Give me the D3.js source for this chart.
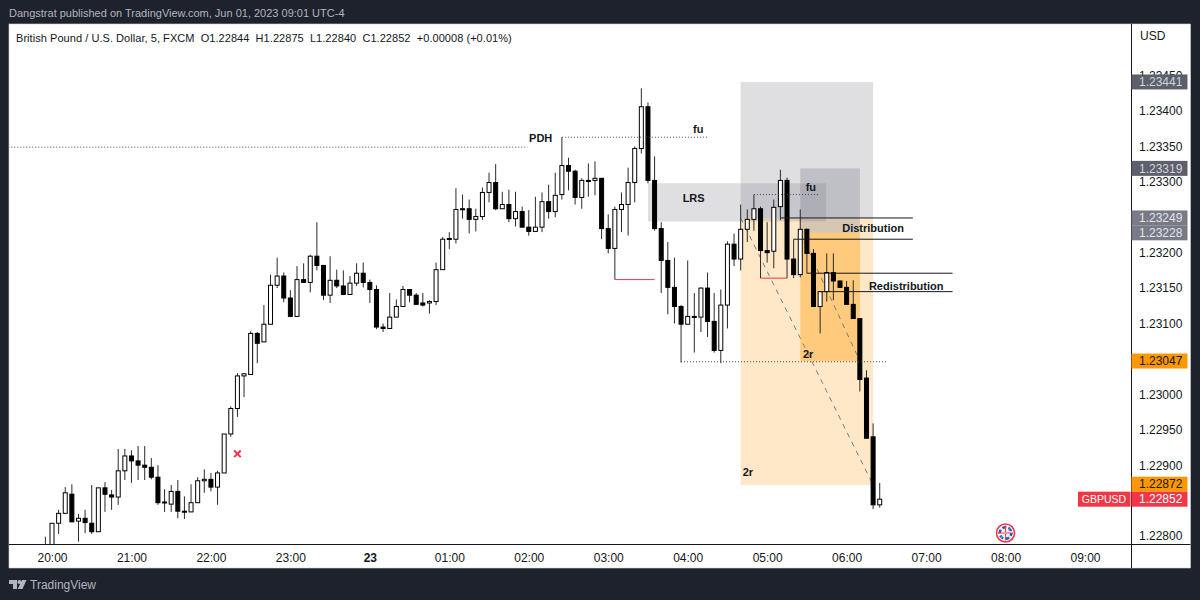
<!DOCTYPE html>
<meta charset="utf-8">
<script src="https://d3js.org/d3.v7.min.js"></script>
<style>
    html, body { margin: 0; background: #1e222d; }
    text { font-family: "Liberation Sans", Arial, sans-serif; }
</style>
<svg id="vis"></svg>

<script>
    // Candle prices. One bar every 5 minutes, first one at 19:55
    const opens = [
        1.22783,1.22777,1.22818,1.22832,1.22859,1.22821,1.22825,1.22818,1.22806,1.22868,
        1.22858,1.22855,1.22892,1.22913,1.22906,1.22900,1.22897,1.22883,1.22848,1.22845,
        1.22863,1.22835,1.22834,1.22847,1.22878,1.22880,1.22869,1.22889,1.22944,1.22980,
        1.23026,1.23028,1.23086,1.23074,1.23099,1.23154,1.23167,1.23136,1.23110,1.23162,
        1.23158,1.23195,1.23182,1.23140,1.23161,1.23153,1.23141,1.23157,1.23171,1.23158,
        1.23148,1.23095,1.23093,1.23109,1.23124,1.23148,1.23140,1.23129,1.23129,1.23131,
        1.23176,1.23219,1.23219,1.23262,1.23262,1.23247,1.23251,1.23285,1.23299,1.23262,
        1.23268,1.23248,1.23258,1.23236,1.23230,1.23236,1.23272,1.23258,1.23282,1.23323,
        1.23315,1.23278,1.23302,1.23302,1.23305,1.23234,1.23206,1.23261,1.23268,1.23299,
        1.23347,1.23406,1.23302,1.23234,1.23189,1.23151,1.23124,1.23099,1.23110,1.23109,
        1.23150,1.23103,1.23062,1.23126,1.23212,1.23191,1.23233,1.23247,1.23262,1.23203,
        1.23202,1.23265,1.23302,1.23191,1.23169,1.23233,1.23199,1.23124,1.23145,1.23172,
        1.23160,1.23151,1.23127,1.23107,1.23023,1.22940,1.22844
    ];
    const highs = [
        1.22799,1.22818,1.22837,1.22869,1.22873,1.22831,1.22837,1.22872,1.22868,1.22876,
        1.22865,1.22923,1.22923,1.22921,1.22927,1.22927,1.22910,1.22900,1.22866,1.22872,
        1.22879,1.22856,1.22873,1.22883,1.22894,1.22889,1.22892,1.22944,1.22983,1.23030,
        1.23030,1.23089,1.23088,1.23126,1.23169,1.23193,1.23172,1.23147,1.23181,1.23185,
        1.23197,1.23243,1.23182,1.23195,1.23176,1.23175,1.23167,1.23185,1.23186,1.23162,
        1.23154,1.23100,1.23143,1.23134,1.23153,1.23148,1.23143,1.23143,1.23133,1.23186,
        1.23222,1.23229,1.23291,1.23282,1.23275,1.23262,1.23292,1.23313,1.23325,1.23286,
        1.23289,1.23286,1.23265,1.23260,1.23279,1.23285,1.23296,1.23313,1.23363,1.23334,
        1.23317,1.23305,1.23326,1.23329,1.23305,1.23254,1.23265,1.23285,1.23320,1.23350,
        1.23432,1.23412,1.23336,1.23243,1.23215,1.23193,1.23126,1.23189,1.23143,1.23151,
        1.23172,1.23143,1.23148,1.23216,1.23227,1.23268,1.23261,1.23282,1.23265,1.23243,
        1.23275,1.23317,1.23306,1.23219,1.23261,1.23234,1.23205,1.23145,1.23199,1.23199,
        1.23161,1.23160,1.23161,1.23107,1.23034,1.22959,1.22875
    ];
    const lows = [
        1.22766,1.22769,1.22803,1.22832,1.22820,1.22792,1.22804,1.22803,1.22806,1.22834,
        1.22837,1.22844,1.22879,1.22875,1.22879,1.22879,1.22880,1.22844,1.22834,1.22834,
        1.22825,1.22824,1.22834,1.22847,1.22861,1.22863,1.22844,1.22889,1.22940,1.22968,
        1.22996,1.23028,1.23044,1.23074,1.23099,1.23150,1.23130,1.23109,1.23110,1.23158,
        1.23144,1.23175,1.23133,1.23129,1.23150,1.23140,1.23141,1.23153,1.23151,1.23129,
        1.23092,1.23088,1.23093,1.23109,1.23124,1.23130,1.23127,1.23124,1.23114,1.23126,
        1.23176,1.23205,1.23213,1.23248,1.23227,1.23230,1.23246,1.23271,1.23260,1.23262,
        1.23243,1.23237,1.23236,1.23224,1.23230,1.23229,1.23248,1.23250,1.23275,1.23288,
        1.23268,1.23262,1.23279,1.23281,1.23219,1.23199,1.23162,1.23229,1.23224,1.23271,
        1.23340,1.23298,1.23231,1.23143,1.23113,1.23100,1.23045,1.23099,1.23059,1.23088,
        1.23081,1.23059,1.23044,1.23093,1.23181,1.23175,1.23215,1.23231,1.23164,1.23186,
        1.23178,1.23246,1.23164,1.23164,1.23165,1.23171,1.23124,1.23086,1.23131,1.23133,
        1.23150,1.23127,1.23107,1.23004,1.22938,1.22838,1.22840
    ];
    const closes = [
        1.22772,1.22818,1.22832,1.22861,1.22820,1.22825,1.22819,1.22806,1.22868,1.22859,
        1.22855,1.22892,1.22913,1.22906,1.22900,1.22897,1.22883,1.22847,1.22847,1.22863,
        1.22835,1.22834,1.22847,1.22878,1.22880,1.22869,1.22889,1.22944,1.22980,1.23026,
        1.23029,1.23086,1.23072,1.23099,1.23154,1.23167,1.23136,1.23110,1.23162,1.23158,
        1.23195,1.23182,1.23140,1.23161,1.23153,1.23141,1.23157,1.23171,1.23158,1.23148,
        1.23095,1.23093,1.23109,1.23124,1.23148,1.23140,1.23127,1.23126,1.23131,1.23176,
        1.23219,1.23220,1.23261,1.23261,1.23247,1.23251,1.23285,1.23299,1.23262,1.23268,
        1.23248,1.23258,1.23236,1.23230,1.23236,1.23272,1.23258,1.23281,1.23323,1.23315,
        1.23278,1.23302,1.23301,1.23305,1.23234,1.23206,1.23261,1.23268,1.23299,1.23347,
        1.23406,1.23302,1.23234,1.23189,1.23151,1.23124,1.23099,1.23110,1.23109,1.23150,
        1.23103,1.23062,1.23126,1.23212,1.23191,1.23233,1.23247,1.23262,1.23203,1.23200,
        1.23264,1.23302,1.23191,1.23169,1.23233,1.23199,1.23124,1.23145,1.23172,1.23160,
        1.23151,1.23127,1.23107,1.23021,1.22938,1.22844,1.22852
    ];

    const priceTicks = [1.228, 1.2285, 1.229, 1.2295, 1.23, 1.2305, 1.231, 1.2315, 1.232, 1.2325, 1.233, 1.2335, 1.234, 1.2345];
    const timeTicks = [0, 60, 120, 180, 240, 300, 360, 420, 480, 540, 600, 660, 720, 780];
    const timeLabels = ['20:00', '21:00', '22:00', '23:00', '23', '01:00', '02:00', '03:00', '04:00', '05:00', '06:00', '07:00', '08:00', '09:00'];

    // Position tools: [from, to, top, split, bottom], time in minutes after 20:00
    const positions = [[520, 620, 1.23441, 1.23249, 1.22872], [565, 610, 1.23319, 1.23228, 1.23047]];
    const lrsZone = [450, 584.5, 1.23298, 1.23244];

    // [from, to, price]
    const dottedLines = [[-33, 359, 1.23349], [385, 495, 1.23363], [530, 579, 1.23282], [475, 630, 1.23046]];
    const redLines = [[425, 455, 1.23162], [535, 555, 1.23164]];
    const levelLines = [[550, 650, 1.23249], [560, 650, 1.23219], [570, 680, 1.23171], [580, 680, 1.23145]];

    // [text, time, price]
    const notes = [
        ['PDH', 369, 1.23361], ['fu', 488, 1.23374], ['LRS', 484.5, 1.23277], ['fu', 573, 1.23292],
        ['Distribution', 620, 1.23234], ['Redistribution', 645, 1.23153], ['2r', 571, 1.23057], ['2r', 525.5, 1.22890]
    ];

    // [price, text colour, box colour]
    const priceTags = [
        [1.23441, '#d1d4dc', '#5d606b'], [1.23319, '#d1d4dc', '#5d606b'], [1.23249, '#e0e3eb', '#787b86'],
        [1.23228, '#e0e3eb', '#787b86'], [1.23047, '#131722', '#ff9800'], [1.22872, '#131722', '#ff9800'],
        [1.22852, '#ffffff', '#f23645']
    ];

    const bars = opens.map((o, i) => ({time: (i - 1) * 5, o: o, h: highs[i], l: lows[i], c: closes[i]}));

    const svg = d3.select('#vis').attr('width', 1200).attr('height', 600).style('display', 'block');

    // Panel
    const panel = {left: 9, right: 1190.5, top: 24, bottom: 568, plotRight: 1131.5, plotBottom: 544.5};
    svg.append('rect').attr('x', panel.left).attr('y', panel.top)
        .attr('width', panel.right - panel.left).attr('height', panel.bottom - panel.top)
        .attr('fill', '#fff').attr('stroke', '#d6d8de').attr('stroke-width', 0.6);

    svg.append('defs').append('clipPath').attr('id', 'plot').append('rect')
        .attr('x', panel.left).attr('y', panel.top)
        .attr('width', panel.plotRight - panel.left).attr('height', panel.plotBottom - panel.top);

    // Scales
    const x = d3.scaleLinear().domain([0, 780]).range([52, 1085]);
    const y = d3.scaleLinear().domain([1.228, 1.234]).range([536, 111]);

    const plot = svg.append('g').attr('clip-path', 'url(#plot)');

    // Position tools, behind the candles. The smaller one is painted stronger
    positions.forEach((p, i) => {
        plot.append('rect').attr('x', x(p[0])).attr('width', x(p[1]) - x(p[0]))
            .attr('y', y(p[2])).attr('height', y(p[3]) - y(p[2]))
            .attr('fill', '#787b86').attr('fill-opacity', i === 0 ? 0.24 : 0.3);
        plot.append('rect').attr('x', x(p[0])).attr('width', x(p[1]) - x(p[0]))
            .attr('y', y(p[3])).attr('height', y(p[4]) - y(p[3]))
            .attr('fill', '#ff9800').attr('fill-opacity', i === 0 ? 0.22 : 0.38);
        plot.append('line').attr('x1', x(p[0])).attr('y1', y(p[3])).attr('x2', x(p[1])).attr('y2', y(p[4]))
            .attr('stroke', '#787b86').attr('stroke-dasharray', '5,5');
    });
    plot.append('rect').attr('x', x(lrsZone[0])).attr('width', x(lrsZone[1]) - x(lrsZone[0]))
        .attr('y', y(lrsZone[2])).attr('height', y(lrsZone[3]) - y(lrsZone[2]))
        .attr('fill', '#787b86').attr('fill-opacity', 0.24);

    // Candles
    const bodyWidth = 4;
    const candle = plot.append('g').selectAll('g').data(bars).enter().append('g');
    candle.append('line')
        .attr('x1', d => x(d.time)).attr('x2', d => x(d.time))
        .attr('y1', d => y(d.h)).attr('y2', d => y(d.l))
        .attr('stroke', '#2a2a2a').attr('stroke-width', 1);
    candle.append('rect')
        .attr('x', d => x(d.time) - bodyWidth / 2).attr('width', bodyWidth)
        .attr('y', d => y(Math.max(d.o, d.c)))
        .attr('height', d => Math.max(1, Math.abs(y(d.o) - y(d.c))))
        .attr('fill', d => d.c >= d.o ? '#fff' : '#000')
        .attr('stroke', '#000').attr('stroke-width', 1);

    // Drawn lines
    const drawLines = (rows, colour, dash) => plot.append('g').selectAll('line').data(rows).enter().append('line')
        .attr('x1', d => x(d[0])).attr('x2', d => x(d[1]))
        .attr('y1', d => y(d[2])).attr('y2', d => y(d[2]))
        .attr('stroke', colour).attr('stroke-dasharray', dash);
    drawLines(dottedLines, '#444', '1,2');
    drawLines(redLines, '#f23645', null);
    drawLines(levelLines, '#131722', null);

    plot.append('g').selectAll('text').data(notes).enter().append('text')
        .attr('x', d => x(d[1])).attr('y', d => y(d[2]))
        .attr('dy', '0.35em').attr('text-anchor', 'middle')
        .attr('font-size', 11).attr('font-weight', 700)
        .attr('fill', '#131722').text(d => d[0]);

    // Red cross
    plot.append('path').attr('d', d3.symbol(d3.symbolX, 30)())
        .attr('transform', 'translate(' + x(140) + ',' + y(1.22916) + ')')
        .attr('fill', 'none').attr('stroke', '#f23645').attr('stroke-width', 2);

    // UK event flag, sits on the time axis at 08:00
    const flag = svg.append('g').attr('transform', 'translate(' + x(720) + ',533)');
    flag.append('circle').attr('r', 9).attr('fill', '#fff').attr('stroke', '#f23645').attr('stroke-width', 1.6);
    flag.append('circle').attr('r', 5.8).attr('fill', 'none').attr('stroke', '#1e5bb8').attr('stroke-width', 2.6).attr('stroke-dasharray', '4,2.1').attr('stroke-dashoffset', 1);
    flag.append('path').attr('d', 'M-7.5 0H7.5M0 -7.5V7.5').attr('stroke', '#f23645').attr('stroke-width', 1.2);
    flag.append('path').attr('d', 'M-5 -5L5 5M5 -5L-5 5').attr('stroke', '#c9cbd2').attr('stroke-width', 0.8);

    // Axis borders
    svg.append('line').attr('x1', panel.left).attr('x2', panel.right).attr('y1', panel.plotBottom).attr('y2', panel.plotBottom).attr('stroke', '#131722');
    svg.append('line').attr('x1', panel.plotRight).attr('x2', panel.plotRight).attr('y1', panel.top).attr('y2', panel.bottom).attr('stroke', '#131722');

    // Time axis
    const xAxis = svg.append('g').attr('transform', 'translate(0,' + panel.plotBottom + ')')
        .call(d3.axisBottom(x).tickValues(timeTicks).tickSize(0).tickPadding(8.5).tickFormat((d, i) => timeLabels[i]));
    xAxis.select('.domain').remove();
    xAxis.selectAll('text').attr('font-size', 12).attr('fill', '#131722')
        .attr('font-weight', d => d === 240 ? 700 : 400);
    xAxis.attr('font-family', null);

    // Price axis
    const yAxis = svg.append('g').attr('transform', 'translate(' + panel.plotRight + ',0)')
        .call(d3.axisRight(y).tickValues(priceTicks).tickSize(0).tickPadding(7.5).tickFormat(d3.format('.5f')));
    yAxis.select('.domain').remove();
    yAxis.selectAll('text').attr('font-size', 12).attr('fill', '#131722');
    yAxis.attr('font-family', null);

    svg.append('text').attr('x', 1140).attr('y', 39.5).attr('font-size', 12).attr('fill', '#131722').text('USD');

    // Price tags, nudged apart where they would overlap
    const tagHeight = 15;
    const tagY = priceTags.map(d => y(d[0]));
    tagY[5] = Math.min(tagY[5], tagY[6] - tagHeight);
    const tags = svg.append('g').selectAll('g').data(priceTags).enter().append('g')
        .attr('transform', (d, i) => 'translate(' + panel.plotRight + ',' + tagY[i] + ')');
    tags.append('rect').attr('x', 0).attr('y', -tagHeight / 2).attr('width', 56).attr('height', tagHeight)
        .attr('fill', d => d[2]);
    tags.append('text').attr('x', 7.5).attr('dy', '0.35em').attr('font-size', 12)
        .attr('fill', d => d[1]).text(d => d[0].toFixed(5));

    const symbolTag = svg.append('g').attr('transform', 'translate(1078,' + tagY[6] + ')');
    symbolTag.append('rect').attr('y', -tagHeight / 2).attr('width', 52.5).attr('height', tagHeight).attr('fill', '#f23645');
    symbolTag.append('text').attr('x', 26).attr('dy', '0.35em').attr('text-anchor', 'middle')
        .attr('font-size', 10.5).attr('fill', '#fff').text('GBPUSD');

    // Header and legend
    svg.append('text').attr('x', 9).attr('y', 17).attr('font-size', 11).attr('fill', '#b2b5be')
        .text('Dangstrat published on TradingView.com, Jun 01, 2023 09:01 UTC-4');
    svg.append('text').attr('x', 16).attr('y', 41.5).attr('font-size', 11).attr('letter-spacing', 0.05).attr('fill', '#131722')
        .text('British Pound / U.S. Dollar, 5, FXCM\u00a0\u00a0O1.22844\u00a0\u00a0H1.22875\u00a0\u00a0L1.22840\u00a0\u00a0C1.22852\u00a0\u00a0+0.00008 (+0.01%)');

    // TradingView logo
    const logo = svg.append('g').attr('fill', '#b2b5be');
    logo.append('path').attr('d', 'M9 580h8v9h-4v-5h-4z');
    logo.append('circle').attr('cx', 19.4).attr('cy', 582).attr('r', 2);
    logo.append('path').attr('d', 'M22 580h4.5l-4 9h-4.8z');
    svg.append('text').attr('x', 30).attr('y', 589).attr('font-size', 12).attr('fill', '#b2b5be').text('TradingView');
</script>
